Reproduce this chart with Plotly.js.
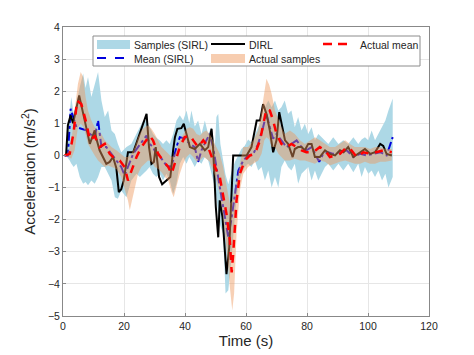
<!DOCTYPE html>
<html>
<head>
<meta charset="utf-8">
<script src="https://cdn.plot.ly/plotly-3.0.1.min.js"></script>
<style>html,body{margin:0;padding:0;background:#fff;}#chart{width:474px;height:355px;}</style>
</head>
<body>
<div id="chart"></div>
<script>
// DIRL (black solid)
const dirlX = [1,1.6,2.5,3.3,5.3,8.2,8.8,10.4,11,12,14.2,15.3,16.4,17.5,18.3,19.1,19.9,21.3,23,24,25.2,26.3,27.4,28.2,29,29.8,30.4,31.5,32.5,33.9,35.2,36.1,36.7,37.5,38.8,39.6,40.5,41.6,43.2,44.9,46.5,47.6,48.7,49.2,50.1,50.9,51.4,52.3,53.6,54.5,55.8,60.2,61.8,63.5,64.6,65.6,66.7,67.8,68.9,70,70.9,72,72.8,73.8,75.3,76,77.1,78.2,79.3,80.4,81.5,82.6,84.2,85.9,87.5,89.2,90.8,92,93.5,95.2,96.8,99,100.7,102.3,104,105,106.1,107.8];
const dirlY = [0,0.94,1.25,1.0,1.87,0.57,0.36,0.78,0.5,0.16,-0.26,-0.2,-0.05,-0.4,-1.14,-1.05,-0.78,0.1,0.1,0.36,0.68,0.99,1.3,0.26,-0.26,-0.2,0.26,-0.67,-0.9,-0.78,-0.67,0.16,0.57,0.83,0.85,0.99,0.67,0.26,0.2,0.36,0.16,0.26,0.83,0.26,-1.6,-2.55,-1.4,-1.92,-3.7,-2.86,0,0,0.26,1.09,1.09,1.6,1.3,0.78,0.1,0.47,1.35,0.88,0.47,0.36,-0.05,0.2,0.26,0.26,0.16,0.36,0.36,-0.05,-0.05,0.16,0.05,0,0.16,0.1,0.26,-0.05,0.05,0.2,0.05,0.1,0.36,0.3,0.05,0];

// Actual mean (red dashed)
const actMeanX = [0.5,2.2,3.5,4.6,6,7.7,8.8,10.4,12,13.7,15.3,17,18.6,20.2,21.3,22.4,24.1,25.7,27.4,28.4,29.5,31.2,32.8,34.5,35.6,36.7,38.3,39.9,41.6,42.7,44.3,46,47.6,49.2,50.3,51.4,52.5,53.6,54.7,55.3,55.8,56.9,58,59.6,61.3,62.9,64.6,65.6,66.7,67.8,68.9,70,71.6,73.3,74.9,76.6,78.2,79.8,82,84.2,85.9,87.5,89.2,90.8,93,94.6,96.3,98.5,100.7,102.8,105,107.8];
const actMeanY = [0,0.05,0.73,1.71,1.6,0.99,0.47,0.6,0.26,0.36,0.05,-0.1,-0.16,-0.36,-0.78,-0.47,-0.05,0.26,0.47,0.62,0.47,0.05,-0.16,-0.36,-0.57,-0.26,0.26,0.57,0.62,0.47,0.26,0.47,0.26,-0.16,-0.47,-0.67,-1.2,-1.82,-2.65,-3.64,-3.07,-1.4,-0.57,-0.16,0,0.05,0.47,0.99,1.45,1.4,1.09,0.67,0.36,0.26,0.36,0.26,0.16,0.1,0.1,0.26,0.16,-0.05,0,0.05,0.26,0.16,-0.05,0.1,0.05,0.1,0.16,0.1];

// Mean (SIRL) (blue dash-dot)
const sirlMeanX = [0.5,1.6,2.5,3.3,4.4,6,7.7,8.8,10.4,11.5,12.6,14.2,15.9,17.5,19.1,20.2,21.3,23,24.6,26.3,27.4,28.4,29.5,30.6,32.3,33.9,35,36.1,37.2,38.3,39.9,41.6,43.2,44.3,45.4,47,48.1,49.2,50.3,51.4,52.5,53.6,54.2,55.3,56.4,57.5,59.1,60.7,62.4,64,65.6,66.7,67.8,68.9,70,71.6,73.3,74.9,76.6,78.2,79.8,81.5,83.2,84,85.3,87,88.6,90.8,93,95.2,97.4,99.5,101.7,104,106.1,108.1];
const sirlMeanY = [0,0,1.45,1.2,0.88,0.83,0.78,0.67,0.57,1.09,0.26,0.26,0.05,-0.16,-0.36,-0.62,-0.36,0.05,0.26,0.47,0.62,0.36,0.26,0.05,-0.1,-0.31,-0.36,-0.16,0.26,0.57,0.52,0.36,0.26,-0.2,0.16,0.47,0.67,0.26,-0.36,-1,-1.6,-2.33,-2.55,-1.92,-1.2,-0.47,-0.16,0,0.05,0.36,0.88,1.3,0.88,0.52,0.67,0.47,0.26,0.36,0.47,0.26,0.16,0.26,-0.05,-0.2,0.05,0.1,0.05,0.1,0.16,-0.05,0.05,0,0.05,0.1,0,0.57];

// Samples (SIRL) band
const sirlBandX = [1,2.2,2.7,3.5,4.4,5.5,6.6,7.4,8.2,9.3,10.4,11.5,12.6,13.7,14.8,15.9,17,18,19.1,20.8,22.4,24.1,25.2,26.3,27.4,28.4,29.5,30.6,31.7,32.8,33.9,35,36.1,37.2,38.3,39.4,40.5,41.4,42.1,43.2,44.3,45.4,46.5,47.6,48.7,49.8,50.3,50.9,51.6,52.5,53.3,54.2,55.3,56.4,57.5,58.5,59.6,60.7,61.8,62.9,64,65.1,66.2,67.3,68.4,69.5,70.6,71.6,72.7,73.8,74.9,76,77.1,78.2,79.3,80.4,81.5,82.6,83.7,84.8,85.9,87,88.6,90.3,91.9,93.5,95.2,96.8,97.9,99,100.1,101.2,102.3,103.4,104.6,105.7,106.7,108.1];
const sirlBandUpper = [0.26,1.4,1.82,1.3,1.6,2.13,2.55,2.1,2.44,1.82,2.23,2.6,1.71,1.2,1.4,0.78,0.67,0.36,0.1,0.26,0.36,0.67,0.88,1.09,1.09,0.88,0.67,0.55,0.47,0.36,0.47,0.36,0.67,1.09,1.25,1.09,1.4,1.0,1.4,0.9,1.09,0.67,1.09,0.67,0.88,0.3,1.2,1.3,0.36,-0.16,-0.6,-0.9,-0.5,-0.2,0,0.2,0.3,0.5,0.4,0.67,0.88,1.09,1.5,1.71,1.5,1.71,1.4,1.5,1.71,1.3,1.4,0.88,1.2,0.78,0.99,0.67,0.88,0.47,0.67,0.57,0.47,0.36,0.57,0.36,0.47,0.36,0.57,0.36,0.5,0.57,0.47,0.78,0.47,0.67,0.88,1.09,1.4,1.77];
const sirlBandLower = [0,-0.16,-0.25,-0.36,-0.26,-0.67,-0.88,-0.83,-0.93,-0.78,-0.88,-0.67,-0.36,-0.36,-0.57,-0.78,-1.3,-1.35,-1.1,-1.3,-0.78,-0.57,-0.67,-0.57,-0.47,-0.36,-0.57,-0.67,-0.57,-0.78,-0.57,-0.78,-1.2,-0.88,-0.26,-0.05,-0.26,-0.05,-0.16,-0.36,-0.16,-0.26,-0.05,-0.16,-0.57,-1,-1.3,-1.82,-2.2,-2.44,-4.3,-4.2,-3.17,-1.82,-0.88,-0.57,-0.36,-0.26,-0.36,-0.16,-0.47,-0.36,-0.78,-0.47,-1,-0.67,-1,-0.36,-0.16,-0.36,-0.47,-0.26,-0.88,-0.57,-0.47,-0.36,-0.78,-0.47,-0.78,-0.57,-0.36,-0.26,-0.47,-0.26,-0.47,-0.26,-0.52,-0.26,-0.67,-0.36,-0.57,-0.47,-0.67,-0.47,-0.78,-0.57,-1,-0.67];

// Actual samples band
const actBandX = [1,2.7,3.8,4.9,5.8,6.6,7.4,8.2,9.3,10.4,11.5,12.6,13.7,14.8,15.9,17.5,19.1,20.2,21.3,21.9,22.4,23.5,24.6,25.7,26.8,27.9,29,30.1,31.2,32.3,33.4,34.5,35.6,36.3,37.2,38.3,39.4,40.5,41.6,42.7,43.8,44.9,46,47,48.1,49.2,50.3,51.4,52.5,53.6,54.7,55.5,56.1,56.9,58,59.1,60.7,62.4,64,65.1,66,66.7,67.6,68.4,69.5,70.6,71.6,72.7,74.4,76,77.7,79.3,80.9,82.6,84.2,85.9,87.5,89.2,90.8,92.5,94.1,95.7,97.4,99,100.7,102.3,104,105.7,107.8];
const actBandUpper = [0,0.36,1.4,2.23,2.6,2.44,1.82,1.4,1.09,0.88,0.78,0.67,0.47,0.36,0.26,0.16,0.05,-0.05,-0.05,0.0,0.05,0.26,0.57,0.78,0.88,0.94,0.83,0.67,0.47,0.26,0.16,0.05,-0.05,0.0,0.16,0.47,0.67,0.83,0.88,0.83,0.67,0.62,0.73,0.78,0.67,0.47,0.26,0.05,-0.36,-1,-1.5,-1.4,-1.1,-0.78,-0.26,0.26,0.26,0.47,0.78,1.4,2.03,2.39,2.2,1.92,1.4,1.09,0.88,0.67,0.78,0.67,0.47,0.36,0.47,0.57,0.47,0.36,0.26,0.26,0.36,0.47,0.36,0.26,0.26,0.26,0.2,0.26,0.26,0.2,0.2];
const actBandLower = [0,-0.1,0.16,0.88,0.99,0.9,0.67,0.36,0.16,0,-0.16,-0.26,-0.36,-0.31,-0.36,-0.42,-0.67,-1,-1.4,-1.71,-1.5,-1,-0.57,-0.36,-0.26,-0.16,-0.2,-0.36,-0.42,-0.52,-0.67,-0.78,-1.14,-1.3,-1,-0.57,-0.26,-0.05,0.05,-0.05,-0.2,-0.16,-0.05,-0.1,-0.2,-0.47,-0.78,-1.2,-1.92,-2.86,-4.1,-4.83,-4.3,-2.44,-1.09,-0.57,-0.36,-0.26,-0.16,0.05,0.47,0.57,0.5,0.26,0.26,0.05,-0.05,-0.16,-0.16,-0.1,-0.16,-0.16,-0.2,-0.26,-0.16,-0.2,-0.31,-0.26,-0.2,-0.16,-0.2,-0.26,-0.26,-0.2,-0.26,-0.26,-0.2,-0.2,-0.16];

// Legend labels
const legendLabels = ['Samples (SIRL)', 'Mean (SIRL)', 'DIRL', 'Actual samples', 'Actual mean'];

const blueFill = '#add8e6';
const orangeFill = 'rgba(238,150,90,0.45)';
const orangeSolid = '#f7cdb0';

function poly(xs, up, lo) {
  return { x: xs.concat(xs.slice().reverse()), y: up.concat(lo.slice().reverse()) };
}
const sb = poly(sirlBandX, sirlBandUpper, sirlBandLower);
const ab = poly(actBandX, actBandUpper, actBandLower);

const traces = [
  { x: sb.x, y: sb.y, type: 'scatter', mode: 'lines', fill: 'toself', fillcolor: blueFill,
    line: { width: 0, color: blueFill }, name: legendLabels[0], hoverinfo: 'skip' },
  { x: sirlMeanX, y: sirlMeanY, type: 'scatter', mode: 'lines',
    line: { color: '#0000dd', width: 2, dash: 'dashdot' }, name: legendLabels[1] },
  { x: dirlX, y: dirlY, type: 'scatter', mode: 'lines',
    line: { color: '#000000', width: 2 }, name: legendLabels[2] },
  { x: ab.x, y: ab.y, type: 'scatter', mode: 'lines', fill: 'toself', fillcolor: orangeFill,
    line: { width: 0, color: orangeFill }, name: legendLabels[3], hoverinfo: 'skip' },
  { x: actMeanX, y: actMeanY, type: 'scatter', mode: 'lines',
    line: { color: '#ff0000', width: 2.5, dash: '8px,7px' }, name: legendLabels[4] }
];

// Manual legend (MATLAB-style 3 columns), positions in paper coordinates
const L = 63, T = 27, W = 366, H = 289;
const px = v => (v - L) / W;
const py = v => (T + H - v) / H;
const shapes = [
  { type: 'rect', xref: 'paper', yref: 'paper', x0: px(93), x1: px(420), y0: py(66), y1: py(36),
    fillcolor: '#ffffff', line: { color: '#8c8c8c', width: 1 }, layer: 'above' },
  { type: 'rect', xref: 'paper', yref: 'paper', x0: px(97), x1: px(130), y0: py(49), y1: py(40),
    fillcolor: blueFill, line: { width: 0 }, layer: 'above' },
  { type: 'line', xref: 'paper', yref: 'paper', x0: px(97), x1: px(130), y0: py(58), y1: py(58),
    line: { color: '#0000dd', width: 2, dash: 'dash' }, layer: 'above' },
  { type: 'line', xref: 'paper', yref: 'paper', x0: px(211), x1: px(245), y0: py(44), y1: py(44),
    line: { color: '#000000', width: 2 }, layer: 'above' },
  { type: 'rect', xref: 'paper', yref: 'paper', x0: px(211), x1: px(245), y0: py(63), y1: py(54),
    fillcolor: orangeSolid, line: { width: 0 }, layer: 'above' },
  { type: 'line', xref: 'paper', yref: 'paper', x0: px(323), x1: px(352), y0: py(44), y1: py(44),
    line: { color: '#ff0000', width: 2.5, dash: '9px,6px' }, layer: 'above' }
];
const legFont = { family: 'Liberation Sans, Arial, sans-serif', size: 10.5, color: '#262626' };
const ann = (x, y, t) => ({ xref: 'paper', yref: 'paper', x: px(x), y: py(y), text: t, showarrow: false,
  xanchor: 'left', yanchor: 'middle', font: legFont });
const annotations = [
  ann(132, 44.5, legendLabels[0]),
  ann(132, 58.5, legendLabels[1]),
  ann(247, 44.5, legendLabels[2]),
  ann(247, 58.5, legendLabels[3]),
  ann(358, 44.5, legendLabels[4])
];

const layout = {
  width: 474, height: 355,
  margin: { l: 63, r: 45, t: 27, b: 39 },
  paper_bgcolor: '#ffffff', plot_bgcolor: '#ffffff',
  font: { family: 'Liberation Sans, Arial, sans-serif', size: 10.5, color: '#262626' },
  showlegend: false,
  shapes: shapes,
  annotations: annotations,
  xaxis: {
    range: [0, 120], dtick: 20, tick0: 0,
    showgrid: true, gridcolor: '#e6e6e6', zeroline: false,
    showline: true, linecolor: '#888888', linewidth: 1, mirror: true,
    ticks: 'inside', ticklen: 3, tickcolor: '#888888',
    tickfont: { size: 10.5, color: '#262626' },
    title: { text: 'Time (s)', font: { size: 15, color: '#262626' }, standoff: 3 }
  },
  yaxis: {
    range: [-5, 4], dtick: 1, tick0: 0,
    showgrid: true, gridcolor: '#e6e6e6', zeroline: false,
    showline: true, linecolor: '#888888', linewidth: 1, mirror: true,
    ticks: 'inside', ticklen: 3, tickcolor: '#888888',
    tickfont: { size: 10.5, color: '#262626' },
    title: { text: 'Acceleration (m/s<sup>2</sup>)', font: { size: 15, color: '#262626' }, standoff: 8 }
  }
};

Plotly.newPlot('chart', traces, layout, { displayModeBar: false, staticPlot: true });
</script>
</body>
</html>
